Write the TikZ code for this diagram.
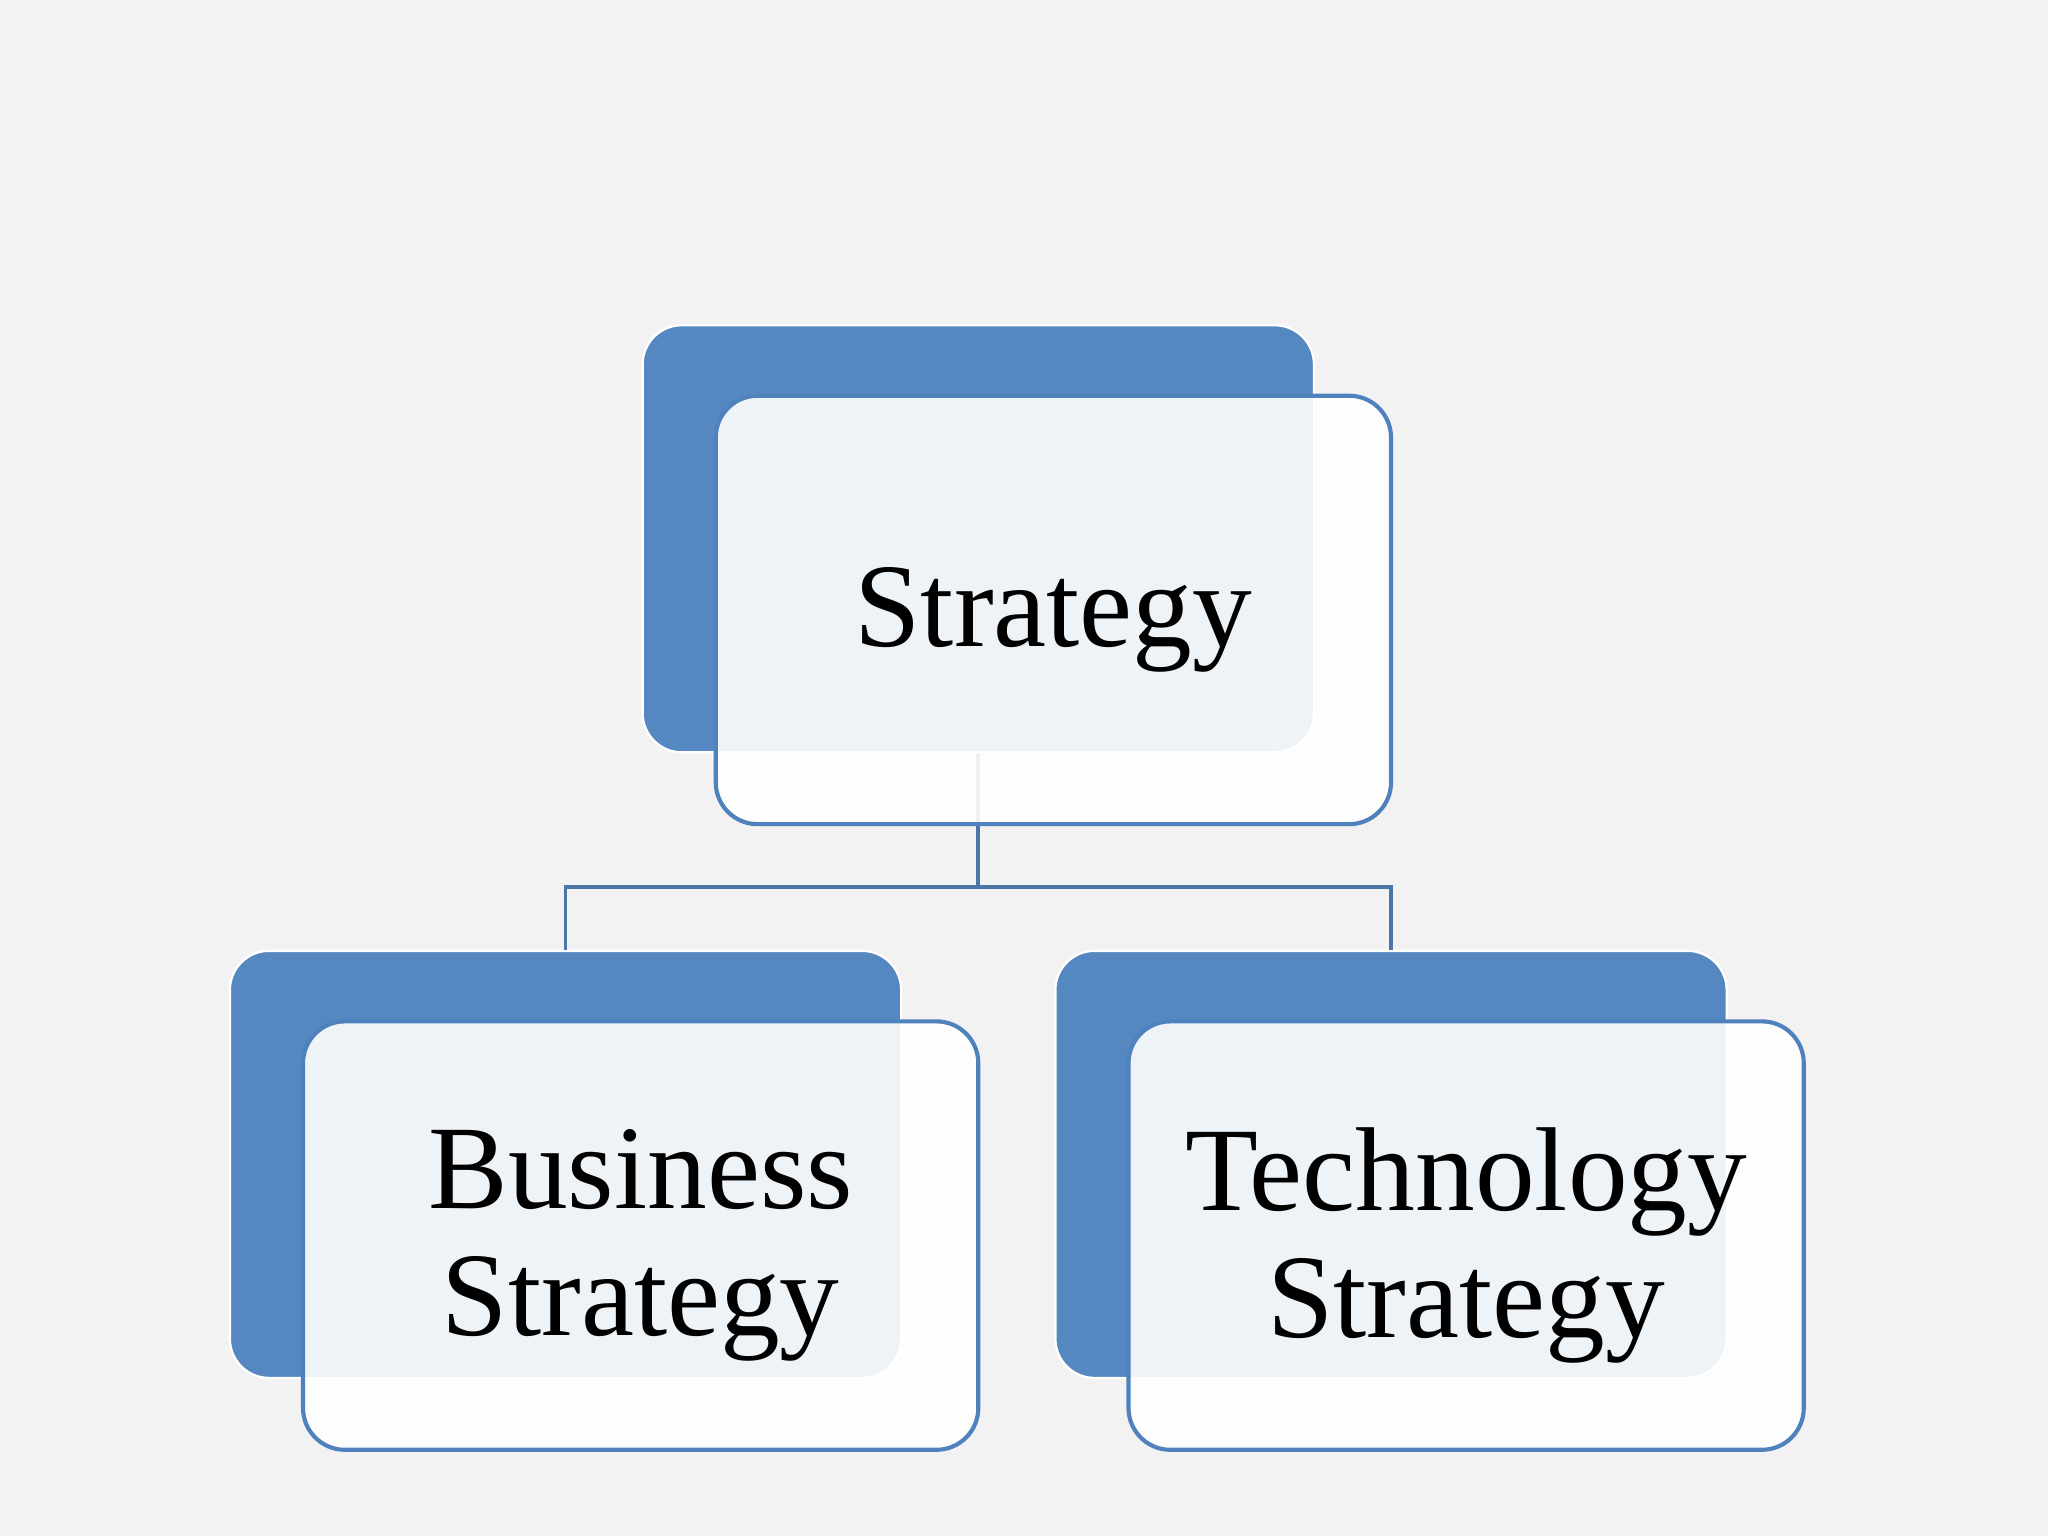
\documentclass[tikz,border=0pt]{standalone}
\usepackage{fontspec}
\setmainfont{Liberation Serif}
\usetikzlibrary{positioning}

\definecolor{boxblue}{HTML}{5588C0}
\definecolor{edgeblue}{HTML}{4F81BD}
\definecolor{linkblue}{HTML}{4A76A8}
\definecolor{paper}{HTML}{F2F2F2}

\begin{document}
\begin{tikzpicture}[back/.style = {draw=white, line width=0.5pt, fill=boxblue, rounded corners=3mm, minimum width=5.14cm, minimum height=3.27cm},
front/.style = {draw=edgeblue, line width=0.9pt, fill=white, fill opacity=0.9, rounded corners=3.2mm, minimum width=5.17cm, minimum height=3.28cm, xshift=5.75mm, yshift=-5.45mm},
txt/.style = {align=center, font=\fontsize{26}{27.5}\selectfont, yshift=-0.75mm},
link/.style = {draw=linkblue, line width=0.8pt}]
\fill[paper] (0,0) rectangle (15.68,-11.76);
\useasboundingbox (0,0) rectangle (15.68,-11.76);
\node[back] (strat) at (7.49,-4.125) {};
\node[back] (bus) at (4.33,-8.915) {};
\node[back] (tech) at (10.65,-8.915) {};
\coordinate (fork) at (7.49,-6.79);
\draw[link] (strat.south) -- (fork);
\draw[link] (fork) -| (bus.north);
\draw[link] (fork) -| (tech.north);
\node[front] (stratF) at (strat) {};
\node[front] (busF) at (bus) {};
\node[front] (techF) at (tech) {};
\node[txt] (stratT) at (stratF) {Strategy};
\node[txt] (busT) at (busF) {Business\\Strategy};
\node[txt] (techT) at (techF) {Technology\\Strategy};
\end{tikzpicture}
\end{document}
